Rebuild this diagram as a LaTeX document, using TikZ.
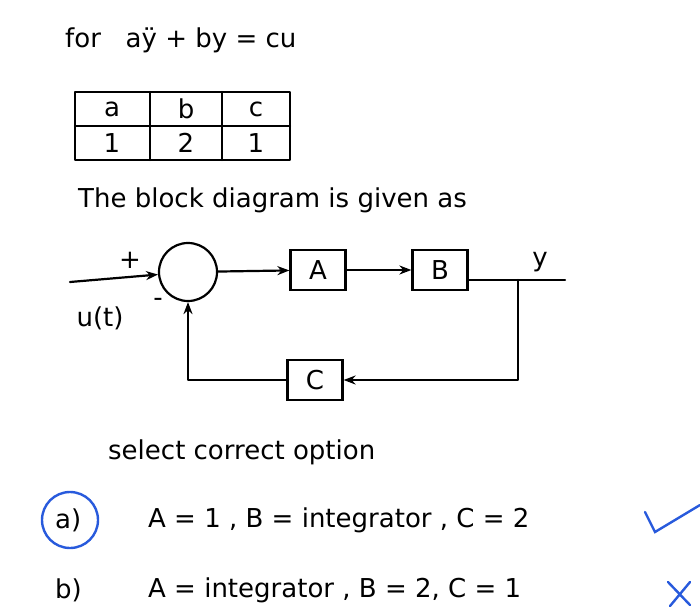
\documentclass[tikz,border=0pt]{standalone}
\usepackage{fontspec}
\setmainfont{DejaVu Sans}
\usetikzlibrary{arrows.meta}
\begin{document}
\begin{tikzpicture}[x=1pt,y=-1pt,
  ink/.style={line width=2.2pt,black,line cap=round,line join=round},
  txt/.style={font=\fontsize{26}{28}\selectfont,inner sep=0pt},
  blk/.style={draw,line width=2.2pt,minimum width=55pt,minimum height=40pt,font=\fontsize{26}{28}\selectfont},
  blue/.style={line width=2.4pt,color={rgb,255:red,40;green,90;blue,220},line cap=round}]
\useasboundingbox (0,0) rectangle (700,615);
\node[txt,anchor=west] (t1) at (65,40) {for \ \ aÿ + by = cu};
% table
\draw[ink] (75,92) rectangle (290,160);
\draw[ink] (75,126) -- (290,126);
\draw[ink] (150,92) -- (150,160);
\draw[ink] (222,92) -- (222,160);
\node[txt] (ha) at (112,109) {a};
\node[txt] (hb) at (186,109) {b};
\node[txt] (hc) at (256,109) {c};
\node[txt] (va) at (112,143) {1};
\node[txt] (vb) at (186,143) {2};
\node[txt] (vc) at (256,143) {1};
\node[txt,anchor=west] (t2) at (78,200) {The block diagram is given as};
% block diagram
\node[draw,circle,line width=2.2pt,minimum size=58pt,inner sep=0pt] (sum) at (188,272) {};
\node[blk] (A) at (318,270) {A};
\node[blk] (B) at (440,270) {B};
\node[blk] (C) at (315,380) {C};
\coordinate (in) at (70,282);
\coordinate (out) at (565,280);
\coordinate (fb1) at (518,280);
\coordinate (fb2) at (518,380);
\coordinate (fb3) at (188,380);
\draw[ink,-{Stealth[length=12pt]}] (in) -- (sum);
\draw[ink,-{Stealth[length=12pt]}] (sum) -- (A);
\draw[ink,-{Stealth[length=12pt]}] (A) -- (B);
\draw[ink] (B.east|-out) -- (out);
\draw[ink,-{Stealth[length=12pt]}] (fb1) -- (fb2) -- (C);
\draw[ink,-{Stealth[length=12pt]}] (C) -- (fb3) -- (sum.south);
\node[txt] (plus) at (130,260) {+};
\node[txt] (minus) at (158,302) {-};
\node[txt] (u) at (100,318) {u(t)};
\node[txt] (y) at (540,262) {y};
\node[txt,anchor=west] (t3) at (108,452) {select correct option};
\node[txt,anchor=west] (oa) at (55,520) {a)};
\draw[blue] (70,520) circle (28pt);
\node[txt,anchor=west] (ta) at (148,520) {A = 1 , B = integrator , C = 2};
\draw[blue] (645,512) -- (655,532) -- (700,505);
\node[txt,anchor=west] (ob) at (55,590) {b)};
\node[txt,anchor=west] (tb) at (148,590) {A = integrator , B = 2, C = 1};
\draw[blue] (668,582) -- (690,605) (690,582) -- (670,606);
\end{tikzpicture}
\end{document}
